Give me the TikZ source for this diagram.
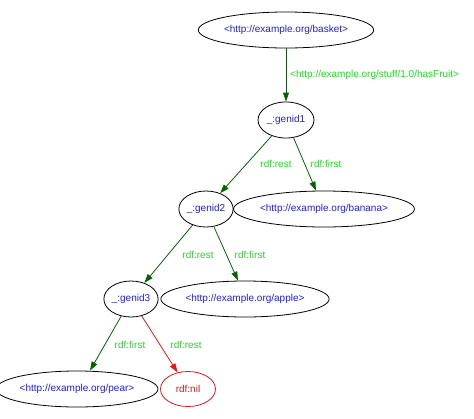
\documentclass[tikz,border=0pt]{standalone}
\usepackage{fontspec}
\setmainfont{Liberation Sans}
\usetikzlibrary{shapes.geometric,arrows.meta}
\definecolor{edgegreen}{RGB}{0,100,0}
\definecolor{labgreen}{RGB}{30,220,30}
\definecolor{nodeblue}{RGB}{30,30,230}
\definecolor{nilred}{RGB}{235,20,20}
\tikzset{
  res/.style={ellipse, draw=black, line width=0.8pt, inner sep=0pt, text=nodeblue, font=\fontsize{10}{12}\selectfont},
  nilnode/.style={ellipse, draw=nilred, line width=0.8pt, inner sep=0pt, text=nilred, font=\fontsize{10}{12}\selectfont},
  rel/.style={draw=edgegreen, line width=0.8pt, -{Triangle[length=9pt,width=6pt]}},
  relred/.style={draw=nilred, line width=0.8pt, -{Triangle[length=9pt,width=6pt]}},
  lab/.style={text=labgreen, font=\fontsize{10}{12}\selectfont, inner sep=0pt},
}
\begin{document}
\begin{tikzpicture}[x=1pt,y=1pt]
\useasboundingbox (0,0) rectangle (474,-418);
\node[res, minimum width=142pt, minimum height=36pt] (basket) at (286,-30) {<http://example.org/basket>};
\node[res, minimum width=56pt, minimum height=36pt] (g1) at (286,-120) {\_:genid1};
\node[res, minimum width=54pt, minimum height=36pt] (g2) at (206,-209) {\_:genid2};
\node[res, minimum width=142pt, minimum height=36pt] (banana) at (324,-209) {<http://example.org/banana>};
\node[res, minimum width=54pt, minimum height=36pt] (g3) at (131,-299) {\_:genid3};
\node[res, minimum width=136pt, minimum height=36pt] (apple) at (245,-299) {<http://example.org/apple>};
\node[res, minimum width=130pt, minimum height=36pt] (pear) at (77,-389) {<http://example.org/pear>};
\node[nilnode, minimum width=55pt, minimum height=35pt] (nil) at (188,-389) {rdf:nil};

\draw[rel] (basket) -- (g1);
\draw[rel] (g1) -- (g2);
\draw[rel] (g1) -- (banana.north -| 316,0);
\draw[rel] (g2) -- (g3);
\draw[rel] (g2) -- (apple.north -| 238,0);
\draw[rel] (g3) -- (pear.north -| 90,0);
\draw[relred] (g3) -- (nil);

\node[lab, anchor=west] (l0) at (290,-75) {<http://example.org/stuff/1.0/hasFruit>};
\node[lab] (l1) at (276,-164) {rdf:rest};
\node[lab] (l2) at (326,-164) {rdf:first};
\node[lab] (l3) at (198,-255) {rdf:rest};
\node[lab] (l4) at (250,-255) {rdf:first};
\node[lab] (l5) at (130,-345) {rdf:first};
\node[lab] (l6) at (186,-345) {rdf:rest};
\end{tikzpicture}
\end{document}
